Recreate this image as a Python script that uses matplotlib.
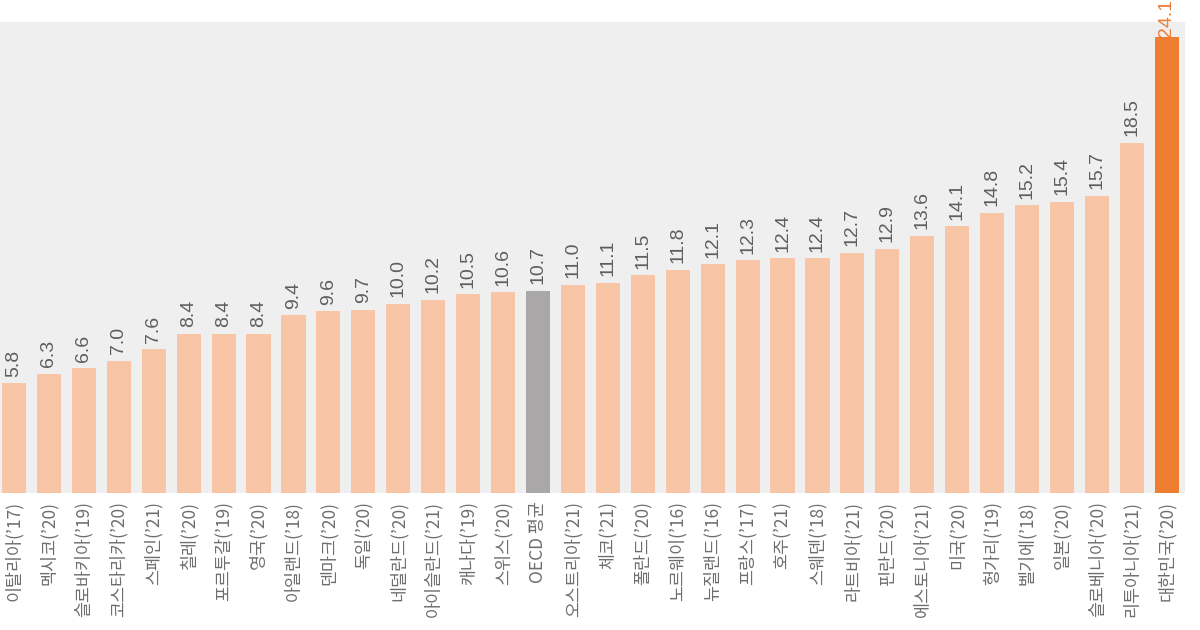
import matplotlib
matplotlib.use("Agg")
import matplotlib.pyplot as plt

plt.rcParams['font.family'] = ['Noto Sans CJK KR', 'DejaVu Sans']

countries = ["이탈리아(’17)", "멕시코(’20)", "슬로바키아(’19)", "코스타리카(’20)", "스페인(’21)",
             "칠레(’20)", "포르투갈(’19)", "영국(’20)", "아일랜드(’18)", "덴마크(’20)",
             "독일(’20)", "네덜란드(’20)", "아이슬란드(’21)", "캐나다(’19)", "스위스(’20)",
             "OECD 평균", "오스트리아(’21)", "체코(’21)", "폴란드(’20)", "노르웨이(’16)",
             "뉴질랜드(’16)", "프랑스(’17)", "호주(’21)", "스웨덴(’18)", "라트비아(’21)",
             "핀란드(’20)", "에스토니아(’21)", "미국(’20)", "헝가리(’19)", "벨기에(’18)",
             "일본(’20)", "슬로베니아(’20)", "리투아니아(’21)", "대한민국(’20)"]
values = [5.8, 6.3, 6.6, 7.0, 7.6, 8.4, 8.4, 8.4, 9.4, 9.6, 9.7, 10.0, 10.2, 10.5, 10.6,
          10.7, 11.0, 11.1, 11.5, 11.8, 12.1, 12.3, 12.4, 12.4, 12.7, 12.9, 13.6, 14.1,
          14.8, 15.2, 15.4, 15.7, 18.5, 24.1]

LIGHT = "#f8c6a6"
GRAY = "#a9a7a7"
ORANGE = "#ef7d2f"

colors = []
for c in countries:
    if c == "OECD 평균":
        colors.append(GRAY)
    elif c.startswith("대한민국"):
        colors.append(ORANGE)
    else:
        colors.append(LIGHT)

fig = plt.figure(figsize=(12, 6.3), dpi=100)
ax = fig.add_axes([0.0, 1 - 493 / 630, 1185 / 1200, (493 - 22) / 630])
ax.set_facecolor("#efefef")

x = list(range(len(values)))
ax.bar(x, values, width=0.69, color=colors, zorder=2)

for xi, v, col in zip(x, values, colors):
    hi = col == ORANGE
    tc = ORANGE if hi else "#5e5e5e"
    ax.text(xi, v + (0.02 if hi else 0.35), f"{v:.1f}", rotation=90, ha="center", va="bottom",
            fontsize=14, color=tc, clip_on=False, zorder=3,
            family=['Liberation Sans', 'DejaVu Sans'])

ax.set_xlim(-0.40, 33.52)
ax.set_ylim(0, 24.9)
ax.set_xticks(x)
ax.set_xticklabels(countries, rotation=90, fontsize=12.5, color="#6e6e6e")
ax.tick_params(axis="x", length=0, pad=6)
ax.set_yticks([])
for s in ax.spines.values():
    s.set_visible(False)

fig.savefig("out.png", dpi=100, facecolor="white")
